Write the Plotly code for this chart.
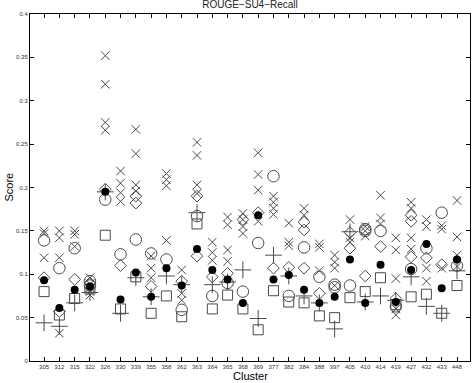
import plotly.graph_objects as go

clusters = ["305", "312", "315", "322", "326", "330", "339", "355", "358", "362",
            "363", "364", "365", "368", "369", "377", "382", "384", "388", "397",
            "405", "410", "414", "419", "427", "432", "433", "448"]

cross_scores = [
    [0.150, 0.147, 0.119], [0.150, 0.142, 0.119, 0.032], [0.150, 0.146, 0.132],
    [0.096, 0.089, 0.080, 0.076], [0.352, 0.319, 0.275, 0.266], [0.219, 0.205, 0.194, 0.184],
    [0.267, 0.239, 0.203, 0.196], [0.121, 0.107, 0.096], [0.216, 0.209, 0.202, 0.139],
    [0.105, 0.078, 0.070], [0.252, 0.237, 0.203, 0.193], [0.137, 0.125, 0.116],
    [0.166, 0.157, 0.128, 0.115], [0.170, 0.163, 0.155, 0.147], [0.240, 0.215, 0.197, 0.161],
    [0.190, 0.183, 0.176, 0.169], [0.159, 0.137, 0.133], [0.176, 0.168],
    [0.135, 0.131, 0.104], [0.122, 0.114, 0.107, 0.087], [0.163, 0.142, 0.137],
    [0.155, 0.150, 0.144], [0.191, 0.165, 0.158], [0.142, 0.128, 0.095, 0.060, 0.053],
    [0.183, 0.176, 0.142, 0.129], [0.163, 0.155, 0.107, 0.092], [0.156, 0.152, 0.107],
    [0.185, 0.143, 0.122, 0.109],
]
diamond_scores = [
    [0.096], [0.057], [0.094], [0.090], [0.198], [0.110], [0.190, 0.182], [0.086], [],
    [0.092], [0.190, 0.121], [0.097], [0.101], [0.163], [0.171], [0.107], [0.108],
    [0.160, 0.151, 0.107], [0.078], [], [0.148, 0.130], [0.098], [0.132], [0.072],
    [0.168, 0.161, 0.120], [0.119], [0.111], [],
]
circle_scores = [
    [0.139], [0.107], [0.130], [0.092, 0.087], [0.186], [0.123], [0.140], [0.124], [0.117],
    [0.059], [0.167], [0.075], [0.090], [0.080], [0.136], [0.213], [0.075], [0.131],
    [0.097], [0.088, 0.085], [0.087], [0.152, 0.150], [0.150], [0.063], [0.106], [0.130],
    [0.171], [0.110],
]
square_scores = [
    [0.080], [0.053], [0.072], [0.083], [0.145], [0.060], [0.097], [0.055], [0.075],
    [0.051], [0.158], [0.060], [0.076], [0.060], [0.036], [0.081], [0.068], [0.067],
    [0.052], [0.050], [0.073], [0.080], [0.096], [0.065], [0.074], [0.077], [0.055],
    [0.087],
]
plus_scores = [
    [0.044], [0.040], [0.067], [0.079], [0.195], [0.055], [0.096], [0.074], [0.098],
    [0.088], [0.171], [0.088], [0.091], [0.105], [0.049], [0.122], [0.098], [0.075],
    [0.067], [0.037], [0.149], [0.068], [0.075], [0.070], [0.097], [0.063], [0.055],
    [0.104],
]
dot_scores = [
    [0.093], [0.061], [0.082], [0.086], [0.195], [0.071], [0.102], [0.074], [0.107],
    [0.087], [0.129], [0.105], [0.094], [0.067], [0.168], [0.094], [0.099], [0.082],
    [0.067], [0.074], [0.117], [0.067], [0.111], [0.068], [0.105], [0.135], [0.084],
    [0.117],
]


def flat(groups):
    xs, ys = [], []
    for c, vals in zip(clusters, groups):
        for v in vals:
            xs.append(c)
            ys.append(v)
    return xs, ys


GRAY = "#4a4a4a"
fig = go.Figure()
specs = [
    (cross_scores, "x-thin-open", 8.5, GRAY),
    (diamond_scores, "diamond-open", 9, GRAY),
    (circle_scores, "circle-open", 11.5, GRAY),
    (square_scores, "square-open", 10, GRAY),
    (plus_scores, "cross-thin-open", 12, GRAY),
]
for groups, sym, size, col in specs:
    xs, ys = flat(groups)
    fig.add_trace(go.Scatter(
        x=xs, y=ys, mode="markers",
        marker=dict(symbol=sym, size=size, color=col, line=dict(width=1, color=col)),
        showlegend=False, hoverinfo="skip"))
xs, ys = flat(dot_scores)
fig.add_trace(go.Scatter(
    x=xs, y=ys, mode="markers",
    marker=dict(symbol="circle", size=8, color="black", line=dict(width=0)),
    showlegend=False, hoverinfo="skip"))

fig.update_layout(
    width=474, height=383,
    margin=dict(l=30, r=4, t=14, b=22),
    paper_bgcolor="white", plot_bgcolor="white",
    font=dict(family="Liberation Sans, Arial, sans-serif", color="black"),
    title=dict(text="ROUGE\u2212SU4\u2212Recall", x=0.5, xref="paper", y=0.987,
               yanchor="middle", xanchor="center", font=dict(size=10, color="#222")),
    xaxis=dict(type="category", categoryorder="array", categoryarray=clusters,
               range=[-0.92, 27.85], showgrid=False, zeroline=False,
               showline=True, linecolor="black", linewidth=1, mirror="ticks",
               ticks="inside", ticklen=4, tickcolor="black",
               tickfont=dict(size=6, color="#333")),
    yaxis=dict(range=[0, 0.4], tickvals=[0, 0.05, 0.1, 0.15, 0.2, 0.25, 0.3, 0.35, 0.4],
               ticktext=["0", "0.05", "0.1", "0.15", "0.2", "0.25", "0.3", "0.35", "0.4"],
               showgrid=False, zeroline=False,
               showline=True, linecolor="black", linewidth=1, mirror="ticks",
               ticks="inside", ticklen=4, tickcolor="black",
               tickfont=dict(size=6, color="#333")),
    annotations=[
        dict(text="Score", xref="paper", yref="paper", x=-0.05, y=0.5, textangle=-90,
             showarrow=False, xanchor="center", yanchor="middle", font=dict(size=11)),
        dict(text="Cluster", xref="paper", yref="paper", x=0.5, y=-0.043,
             showarrow=False, xanchor="center", yanchor="middle", font=dict(size=11)),
    ],
)

fig.write_html("out.html",
               config={"displayModeBar": False, "staticPlot": True},
               post_script="document.body.style.margin='0px';document.body.style.padding='0px';document.body.style.overflow='hidden';")
